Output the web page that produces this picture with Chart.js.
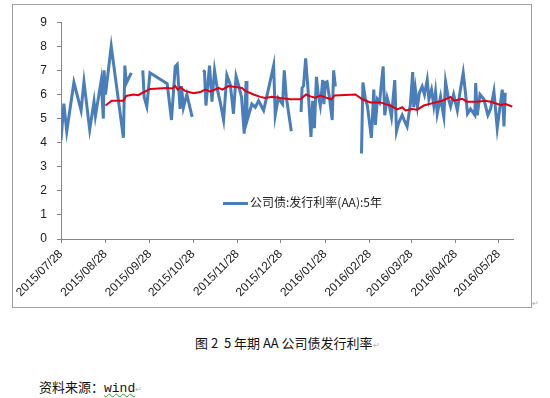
<!DOCTYPE html>
<html>
<head>
<meta charset="utf-8">
<script src="https://cdn.jsdelivr.net/npm/chart.js@4.4.0/dist/chart.umd.min.js"></script>
<style>
  body { margin: 0; background: #fff; width: 550px; height: 398px; position: relative; overflow: hidden; }
  #box { position: absolute; left: 12px; top: 4px; width: 518px; height: 302px; border: 1px solid #a0a0a0; }
  #box canvas { display: block; }
  #legend { position: absolute; left: 210px; top: 188px; font: 12px "Noto Sans CJK SC", sans-serif; color: #222; white-space: nowrap; }
  #legend span.swatch { display: inline-block; width: 25px; height: 3px; background: #4a7ebb; vertical-align: middle; margin-right: 2px; }
  .pm { color: #b0b0b0; font-size: 8px; }
  #caption { position: absolute; left: 195px; top: 333px; font: 13px "Noto Sans CJK SC", sans-serif; color: #111; white-space: nowrap; }
  #source { position: absolute; left: 39px; top: 377px; font: 13px "Noto Sans CJK SC", sans-serif; color: #111; white-space: nowrap; }
  #source .w { font-family: "Liberation Mono", monospace; text-decoration: underline wavy #3a9a3a; text-decoration-thickness: 1px; }
  #mark { position: absolute; left: 532px; top: 299px; }
</style>
</head>
<body>
<div id="box"><canvas id="c" width="518" height="302"></canvas>
  <div id="legend"><span class="swatch"></span>公司债:发行利率(AA):5年</div>
</div>
<div id="mark" class="pm">↵</div>
<div id="caption">图 2 &nbsp;5 年期 AA 公司债发行利率<span class="pm">↵</span></div>
<div id="source">资料来源：<span class="w">wind</span><span class="pm">↵</span></div>
<script>
// x values are days after 2015/07/28; null marks a gap in the series
const startDate = '2015/07/28';
const tickLabels = ['2015/07/28', '2015/08/28', '2015/09/28', '2015/10/28', '2015/11/28', '2015/12/28',
                    '2016/01/28', '2016/02/28', '2016/03/28', '2016/04/28', '2016/05/28'];
const yTicks = [0, 1, 2, 3, 4, 5, 6, 7, 8, 9];

const rateDays = [0, 2, 4, 9, 14, 16, 20, 23, 24, 28, 29.5, 30, 31, 35, 43.5, 44.5, 45.5, 49,
  53,
  57, 58, 59.8, 62, 74, 77, 79.6, 81, 83, 84, 85.3, 87.7, 91.4,
  95,
  99, 100, 101, 103.5, 105.2, 107, 109, 111, 113.3, 115.6, 118, 120.2, 122, 123.7, 125.8, 127.7, 129, 129.6,
  133, 135.4, 137.7, 141.2, 143.5, 148.2, 149.3, 151.4, 154.4, 155.6, 157, 160.5,
  164,
  167.3, 168, 169, 170.5, 172.4, 174.2, 175.4, 176.6, 178, 179.3, 180.7, 182.4, 183.2, 184.2, 185.4, 187, 189, 190, 191.2,
  200,
  209.4, 210.4, 212, 213.5, 216.3, 218, 219.1, 220.5, 222, 224.5, 225.6, 227.3, 229, 230.3, 232.6, 233.8, 235.2,
  237.8, 239.4, 241.2, 243.5, 245.1, 245.8, 247, 248.4, 249.8, 251.7, 253.3, 255.2, 256.4, 258.2, 259.8, 261,
  262.2, 264.5, 265.5, 266.8, 268, 270.1, 271.5, 273.6, 276.2, 277.8, 280.3, 282, 283.3, 285.4, 288.4, 289,
  290.1, 292, 294.7, 297.5, 299.4, 301.7, 304, 307.5, 308.7, 309.6];
const rateValues = [4.1, 5.62, 4.47, 6.5, 5.34, 6.53, 4.54, 5.71, 5.11, 6.57, 5.0, 7.0, 6.0, 8.0, 4.2, 7.2, 6.47, 6.9,
  null,
  7.0, 5.87, 5.5, 6.9, 6.45, 4.94, 7.16, 7.25, 5.4, 6.35, 5.45, 6.0, 5.07,
  null,
  7.0, 6.95, 5.54, 7.2, 5.7, 7.0, 6.2, 5.67, 4.94, 6.8, 6.4, 5.2, 6.76, 6.4, 5.9, 4.37, 6.56, 4.9,
  5.6, 5.47, 5.74, 5.34, 5.94, 7.2, 5.14, 5.85, 5.6, 7.0, 5.9, 4.47,
  null,
  5.27, 6.27, 6.35, 7.5, 6.0, 4.24, 5.74, 4.6, 6.73, 6.0, 5.54, 6.6, 5.6, 6.5, 6.53, 5.9, 4.94, 7.0, 6.33,
  null,
  3.55, 6.5, 5.85, 5.54, 4.2, 6.2, 4.74, 5.8, 5.67, 7.16, 5.14, 5.87, 5.5, 5.07, 6.6, 4.47, 4.8,
  5.14, 4.9, 4.67, 5.6, 6.93, 5.47, 6.2, 5.5, 6.07, 6.33, 6.0, 6.6, 5.8, 6.2, 5.54, 6.1,
  5.2, 5.9, 5.5, 5.07, 6.53, 5.8, 5.5, 6.0, 5.34, 6.0, 6.9, 6.0, 5.2, 5.4, 5.14, 6.47,
  5.14, 6.0, 5.8, 5.14, 5.4, 6.13, 4.6, 6.2, 4.67, 6.07];

// moving-average line
const maDays = [31, 35.4, 43.5, 45.4, 50.5, 53.7, 56.3, 62.1, 73.8, 77.5, 79.6, 81.3, 83, 86.5, 92.3, 97, 100.5,
  104, 109.8, 112.4, 116.7, 122.6, 126.1, 128.4, 134.2, 138.9, 142.4, 147, 152.8, 159.8, 166.8, 170.8, 173.8,
  177.2, 180.7, 184.2, 188.4, 190.7, 205.2, 210, 215.6, 222.6, 226.1, 229.6, 234.3, 237.8, 240.1, 244.7, 248.2,
  252.8, 259.8, 265.7, 271.5, 273.8, 279.6, 283.1, 290.1, 295.9, 299.4, 306.4, 309.8, 314.5];
const maValues = [5.54, 5.74, 5.74, 5.94, 6.0, 5.97, 6.05, 6.23, 6.27, 6.25, 6.35, 6.2, 6.3, 6.15, 6.05, 6.1, 6.2,
  6.12, 6.27, 6.2, 6.35, 6.3, 6.27, 6.15, 6.0, 5.9, 5.85, 5.9, 5.85, 5.8, 5.8, 6.0, 5.92,
  5.87, 5.95, 5.88, 5.8, 5.96, 6.0, 5.8, 5.67, 5.67, 5.6, 5.54, 5.38, 5.47, 5.34, 5.4, 5.37,
  5.54, 5.65, 5.74, 5.9, 5.74, 5.82, 5.7, 5.7, 5.74, 5.7, 5.56, 5.6, 5.5];

function dayOf(s) {
    const [y, m, d] = s.split('/').map(Number);
    const [y0, m0, d0] = startDate.split('/').map(Number);
    return (Date.UTC(y, m - 1, d) - Date.UTC(y0, m0 - 1, d0)) / 86400000;
}

const tickPos = tickLabels.map(dayOf);
const axisColor = '#868686';
const tickFont = { family: 'Liberation Sans', size: 12 };

new Chart(document.getElementById('c'), {
    type: 'line',
    data: {
        datasets: [
            {
                label: '公司债:发行利率(AA):5年',
                data: rateDays.map((d, i) => ({ x: d, y: rateValues[i] })),
                borderColor: '#4a7ebb',
                borderWidth: 3,
                pointRadius: 0,
                tension: 0,
                spanGaps: false,
                order: 2
            },
            {
                label: 'MA',
                data: maDays.map((d, i) => ({ x: d, y: maValues[i] })),
                borderColor: '#e00010',
                borderWidth: 2,
                pointRadius: 0,
                tension: 0,
                order: 1
            }
        ]
    },
    options: {
        responsive: false,
        animation: false,
        layout: { padding: { left: 0, right: 18, top: 8, bottom: 0 } },
        plugins: { legend: { display: false }, tooltip: { enabled: false } },
        scales: {
            x: {
                type: 'linear',
                min: 0,
                max: 315,
                afterBuildTicks: scale => { scale.ticks = tickPos.map(v => ({ value: v })); },
                afterFit: scale => { scale.height = 68; },
                border: { color: axisColor, width: 1 },
                grid: { drawOnChartArea: false, color: axisColor, tickLength: 4 },
                ticks: {
                    autoSkip: false,
                    minRotation: 45,
                    maxRotation: 45,
                    color: '#222',
                    font: tickFont,
                    padding: 4,
                    callback: v => tickLabels[tickPos.indexOf(v)]
                }
            },
            y: {
                min: 0,
                max: 9,
                afterBuildTicks: scale => { scale.ticks = yTicks.map(v => ({ value: v })); },
                afterFit: scale => { scale.width = 48; },
                border: { color: axisColor, width: 1 },
                grid: { drawOnChartArea: false, color: axisColor, tickLength: 4 },
                ticks: { color: '#222', font: tickFont, padding: 10 }
            }
        }
    }
});
</script>
</body>
</html>
